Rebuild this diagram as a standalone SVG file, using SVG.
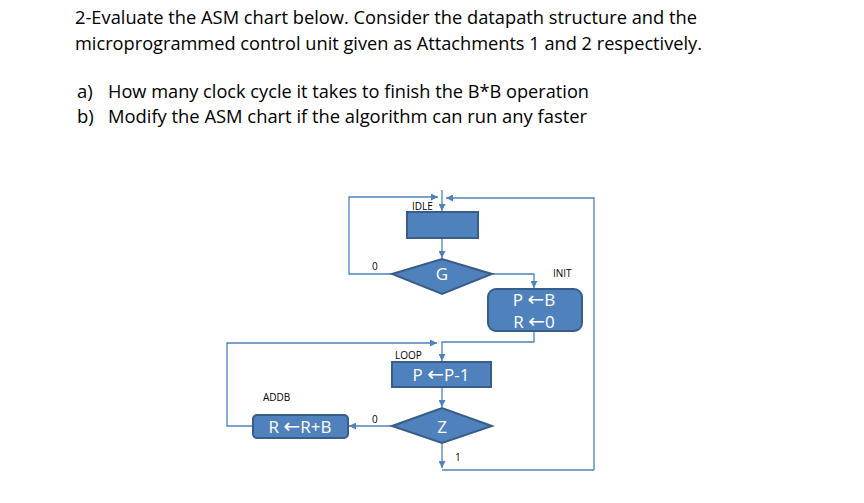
<svg xmlns="http://www.w3.org/2000/svg" width="864" height="503" viewBox="0 0 864 503">
<defs>
<style>
.q{font-family:"Open Sans","Liberation Sans",sans-serif;font-size:18.5px;fill:#000}
.lbl{font-family:"Open Sans","Liberation Sans",sans-serif;font-size:10px;fill:#000}
.wt{font-family:"Open Sans","Liberation Sans",sans-serif;font-size:17px;fill:#fff;text-anchor:middle}
.ar{font-family:"DejaVu Sans",sans-serif;font-size:20px}
.box{fill:#4F81BD;stroke:#385D8A;stroke-width:2}
.ln{fill:none;stroke:#4F81BD;stroke-width:1.3}
</style>
<marker id="ah" viewBox="0 0 10 10" refX="10" refY="5" markerWidth="7" markerHeight="7" orient="auto" markerUnits="userSpaceOnUse">
<path d="M0,0 L10,5 L0,10 z" fill="#4F81BD"/>
</marker>
</defs>
<rect width="864" height="503" fill="#fff"/>
<g id="question">
<text class="q" x="75" y="24" textLength="622" lengthAdjust="spacingAndGlyphs">2-Evaluate the ASM chart below. Consider the datapath structure and the</text>
<text class="q" x="75" y="50" textLength="627" lengthAdjust="spacingAndGlyphs">microprogrammed control unit given as Attachments 1 and 2 respectively.</text>
<text class="q" x="77" y="98">a)</text>
<text class="q" x="108" y="98" textLength="481" lengthAdjust="spacingAndGlyphs">How many clock cycle it takes to finish the B*B operation</text>
<text class="q" x="77" y="123">b)</text>
<text class="q" x="108" y="123" textLength="479" lengthAdjust="spacingAndGlyphs">Modify the ASM chart if the algorithm can run any faster</text>
</g>
<g id="connectors">
<path class="ln" d="M442,190 V211" marker-end="url(#ah)"/>
<path class="ln" d="M392,274 H349 V197 H438" marker-end="url(#ah)"/>
<path class="ln" d="M594,470 V198 H446" marker-end="url(#ah)"/>
<path class="ln" d="M442,238 V258" marker-end="url(#ah)"/>
<path class="ln" d="M492,274 H534 V288" marker-end="url(#ah)"/>
<path class="ln" d="M534,331 V342 H442 V361" marker-end="url(#ah)"/>
<path class="ln" d="M253,426 H227 V343 H437" marker-end="url(#ah)"/>
<path class="ln" d="M442,387 V407" marker-end="url(#ah)"/>
<path class="ln" d="M392,426 H349" marker-end="url(#ah)"/>
<path class="ln" d="M442,443 V468" marker-end="url(#ah)"/>
<path class="ln" d="M442,470 H594"/>
</g>
<g id="idle">
<rect class="box" x="407" y="212" width="71" height="26"/>
<text class="lbl" x="412" y="210">IDLE</text>
</g>
<g id="g-decision">
<polygon class="box" points="392,274 442,259 492,274 442,294"/>
<text class="wt" x="442" y="280">G</text>
<text class="lbl" x="372" y="270">0</text>
</g>
<g id="init">
<rect class="box" x="488" y="289" width="94" height="42" rx="8"/>
<text class="lbl" x="553" y="277">INIT</text>
<text class="wt" x="534" y="306">P <tspan class="ar">←</tspan>B</text>
<text class="wt" x="534" y="328">R <tspan class="ar">←</tspan>0</text>
</g>
<g id="loop">
<rect class="box" x="392" y="362" width="99" height="25"/>
<text class="lbl" x="395" y="359">LOOP</text>
<text class="wt" x="441" y="381">P <tspan class="ar">←</tspan>P-1</text>
</g>
<g id="z-decision">
<polygon class="box" points="392,426 442,408 492,426 442,443"/>
<text class="wt" x="442" y="433">Z</text>
<text class="lbl" x="372" y="423">0</text>
<text class="lbl" x="455" y="461">1</text>
</g>
<g id="addb">
<rect class="box" x="253" y="415" width="95" height="23" rx="4"/>
<text class="lbl" x="263" y="401">ADDB</text>
<text class="wt" x="300" y="433">R <tspan class="ar">←</tspan>R+B</text>
</g>
</svg>
